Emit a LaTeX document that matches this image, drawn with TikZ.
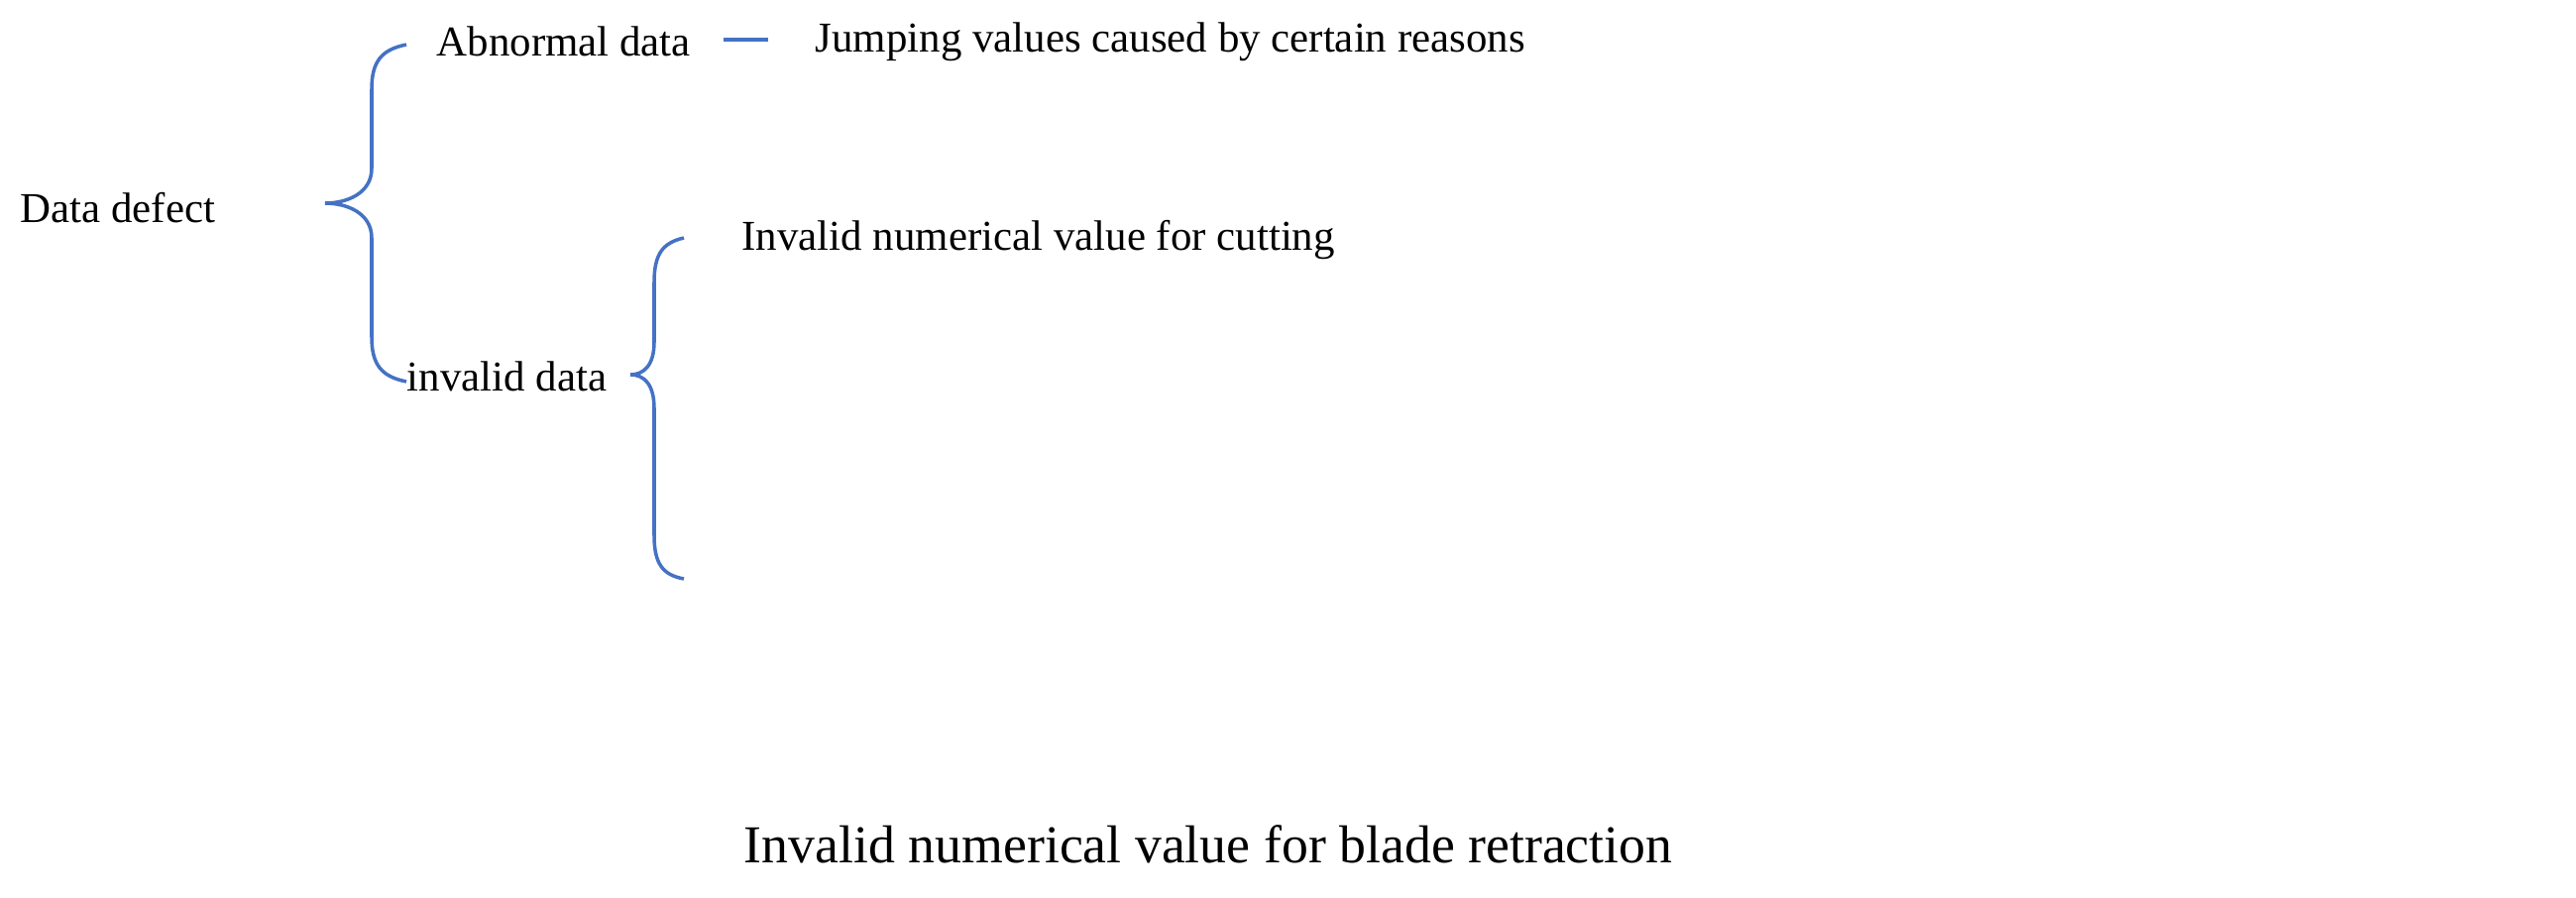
\documentclass[tikz,border=0pt]{standalone}
\usepackage{fontspec}
\setmainfont{Liberation Serif}
\definecolor{bl}{RGB}{68,114,196}
\begin{document}
\begin{tikzpicture}[x=0.01cm,y=-0.01cm,
  lbl/.style={anchor=west,inner sep=0pt,font=\fontsize{12.2pt}{14pt}\selectfont},
  br/.style={draw=bl,line width=1pt}]
\useasboundingbox (0,0) rectangle (2599,906);
\node[lbl] (dd) at (20,210) {Data defect};
\node[lbl] (ab) at (440,42) {Abnormal data};
\node[lbl] (jv) at (822,42) {Jumping values caused by certain reasons};
\node[lbl] (iv) at (410,380) {invalid data};
\node[lbl] (ic) at (748,242) {Invalid numerical value for cutting};
\node[lbl,font=\fontsize{15.3pt}{17pt}\selectfont] (ib) at (750,852) {Invalid numerical value for blade retraction};
\coordinate (d1) at (730,40); \coordinate (d2) at (775,40);
\draw[br] (d1) -- (d2);
% big brace
\draw[br] (410,45) .. controls (385,50) and (375,62) .. (375,90) -- (375,170)
  .. controls (375,195) and (350,205) .. (328,205)
  .. controls (350,205) and (375,215) .. (375,240) -- (375,340)
  .. controls (375,368) and (385,380) .. (410,385);
% small brace
\draw[br] (690,240) .. controls (668,245) and (660,257) .. (660,285) -- (660,345)
  .. controls (660,368) and (650,378) .. (636,378)
  .. controls (650,378) and (660,388) .. (660,412) -- (660,540)
  .. controls (660,568) and (668,580) .. (690,584);
\end{tikzpicture}
\end{document}
